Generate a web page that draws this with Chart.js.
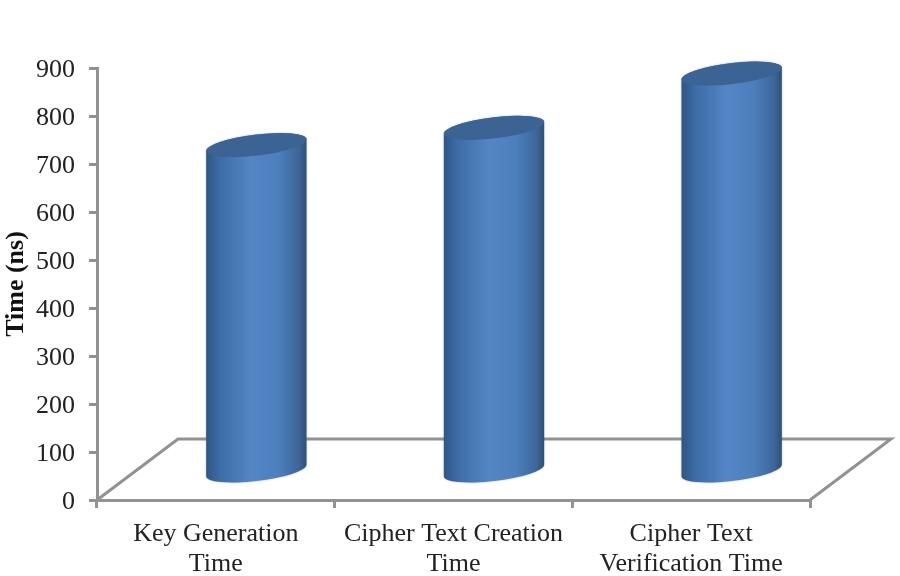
<!DOCTYPE html>
<html>
<head>
<meta charset="utf-8">
<style>
  html, body { margin: 0; padding: 0; background: #fff; }
  #wrap { width: 900px; height: 576px; }
</style>
<script src="https://cdn.jsdelivr.net/npm/chart.js@4"></script>
</head>
<body>
<div id="wrap"><canvas id="chart"></canvas></div>
<script>
const categories = [["Key Generation", "Time"], ["Cipher Text Creation", "Time"], ["Cipher Text", "Verification Time"]];
const timeValues = [681, 717, 830];
const yTicks = [0, 100, 200, 300, 400, 500, 600, 700, 800, 900];

const FONT = "'Liberation Serif', serif";
const AXIS = "#929292";
// floor of the 3d box, bars stand in the middle of it
const DEPTH_X = 81, DEPTH_Y = 61;
const SHIFT_X = 40.5, SHIFT_Y = 28;
const RX = 50.5, RY = 10.5, TILT = -0.12;

function barGradient(ctx, left, right) {
  const g = ctx.createLinearGradient(left, 0, right, 0);
  g.addColorStop(0, "#2e5585");
  g.addColorStop(0.14, "#3d6ca6");
  g.addColorStop(0.45, "#5486c6");
  g.addColorStop(0.72, "#4c7fbc");
  g.addColorStop(0.92, "#3d6699");
  g.addColorStop(1, "#2e4f76");
  return g;
}

const floorPlugin = {
  id: "floor",
  beforeDatasetsDraw(chart) {
    const { ctx, scales } = chart;
    const x0 = scales.x.left, x1 = scales.x.right, y0 = scales.y.getPixelForValue(0);
    ctx.save();
    ctx.strokeStyle = AXIS;
    ctx.lineWidth = 3;
    ctx.lineJoin = "miter";
    ctx.beginPath();
    ctx.moveTo(x0, y0);
    ctx.lineTo(x0 + DEPTH_X, y0 - DEPTH_Y);
    ctx.lineTo(x1 + DEPTH_X, y0 - DEPTH_Y);
    ctx.lineTo(x1, y0);
    ctx.stroke();
    ctx.restore();
  }
};

// bars themselves are transparent, the cylinder is painted on the bar element's position
const cylinderPlugin = {
  id: "cylinder",
  afterDatasetsDraw(chart) {
    const ctx = chart.ctx;
    const t0 = Math.atan((RY / RX) * Math.tan(-TILT));
    chart.getDatasetMeta(0).data.forEach(bar => {
      const cx = bar.x + SHIFT_X;
      const topY = bar.y - SHIFT_Y;
      const botY = bar.base - SHIFT_Y;
      ctx.save();
      ctx.shadowColor = "rgba(90,90,90,0.45)";
      ctx.shadowBlur = 2;
      ctx.fillStyle = barGradient(ctx, cx - RX, cx + RX);
      ctx.beginPath();
      ctx.ellipse(cx, botY, RX, RY, TILT, t0, t0 + Math.PI);
      ctx.ellipse(cx, topY, RX, RY, TILT, t0 + Math.PI, t0 + Math.PI * 2);
      ctx.closePath();
      ctx.fill();
      ctx.shadowColor = "transparent";
      ctx.fillStyle = "#3b6393";
      ctx.beginPath();
      ctx.ellipse(cx, topY, RX, RY, TILT, 0, Math.PI * 2);
      ctx.fill();
      ctx.restore();
    });
  }
};

new Chart(document.getElementById("chart"), {
  type: "bar",
  data: {
    labels: categories,
    datasets: [{
      data: timeValues,
      barThickness: RX * 2,
      backgroundColor: "transparent"
    }]
  },
  options: {
    responsive: true,
    maintainAspectRatio: false,
    animation: false,
    layout: { padding: { top: 68, right: 90, left: 0, bottom: 0 } },
    plugins: { legend: { display: false }, tooltip: { enabled: false } },
    scales: {
      x: {
        afterFit(s) { s.height = 76; },
        grid: { display: true, drawOnChartArea: false, drawTicks: true, tickLength: 8, offset: true, color: AXIS, lineWidth: 3 },
        border: { color: AXIS, width: 3 },
        ticks: { color: "#222", font: { family: FONT, size: 26, lineHeight: 1.15 }, padding: 11, maxRotation: 0, autoSkip: false }
      },
      y: {
        min: 0,
        max: 900,
        afterFit(s) { s.width = 97; },
        afterBuildTicks(s) { s.ticks = yTicks.map(v => ({ value: v })); },
        grid: { drawOnChartArea: false, drawTicks: true, tickLength: 8, color: AXIS, lineWidth: 3 },
        border: { color: AXIS, width: 3 },
        ticks: { color: "#222", font: { family: FONT, size: 26 }, padding: 14, labelOffset: 2 },
        title: { display: true, text: "Time (ns)", color: "#111", font: { family: FONT, size: 26, weight: "bold" }, padding: { top: 1, bottom: 0 } }
      }
    }
  },
  plugins: [floorPlugin, cylinderPlugin]
});
</script>
</body>
</html>
